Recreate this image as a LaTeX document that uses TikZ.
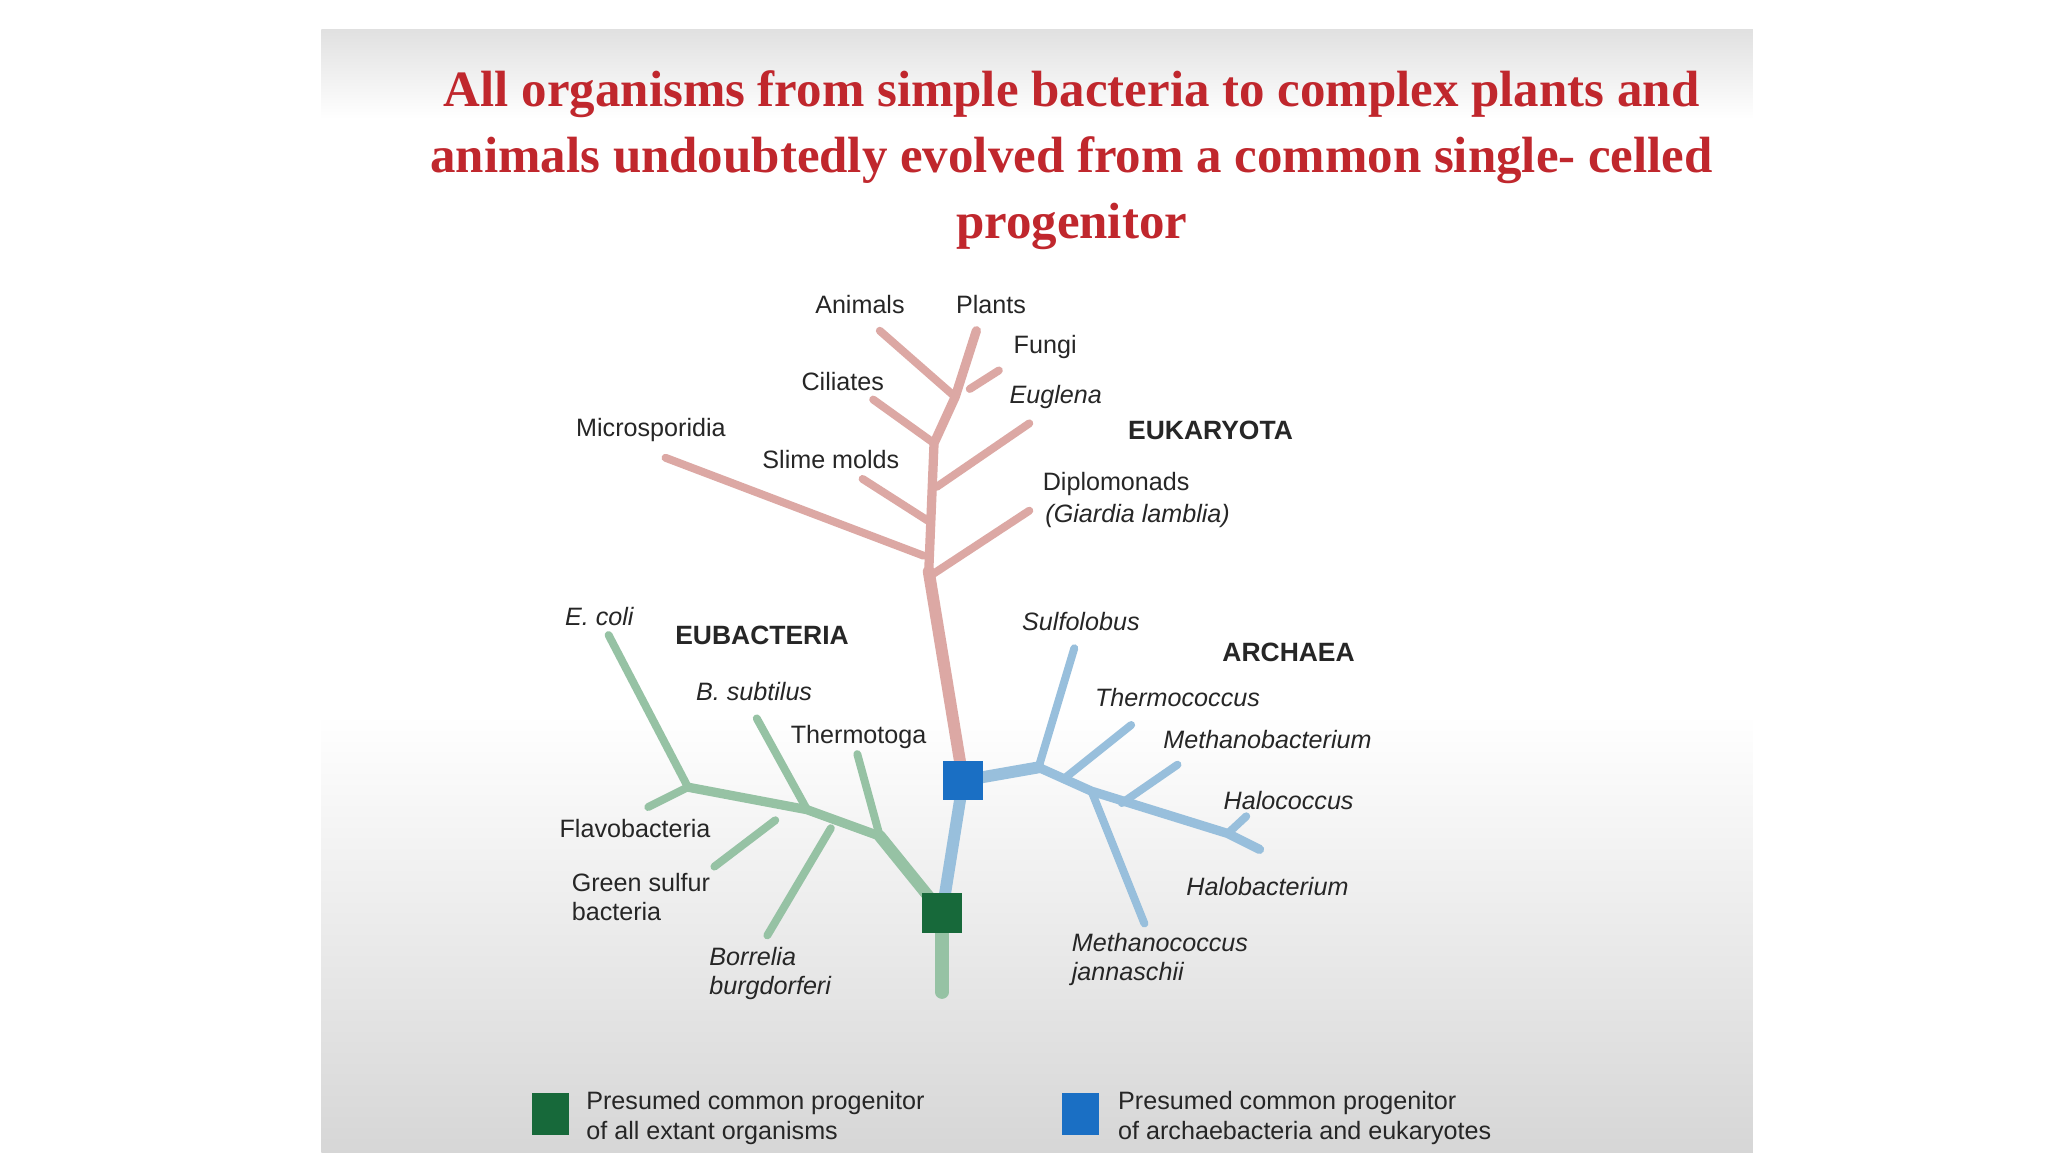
\documentclass[tikz,border=0pt]{standalone}
\usepackage{fontspec}
\setmainfont{Liberation Serif}
\setsansfont{Liberation Sans}
\definecolor{pk}{HTML}{DCA8A4}
\definecolor{bl}{HTML}{98BFDC}
\definecolor{gr}{HTML}{96C2A4}
\definecolor{bsqc}{HTML}{1A6FC4}
\definecolor{gsqc}{HTML}{17693A}
\definecolor{ttl}{HTML}{C0272D}
\begin{document}
\begin{tikzpicture}[x=1pt,y=-1pt,
 lab/.style={font=\sffamily\fontsize{19}{22}\selectfont,inner sep=0pt,text=black!85},
 itl/.style={lab,font=\sffamily\itshape\fontsize{19}{22}\selectfont},
 grp/.style={lab,font=\sffamily\bfseries\fontsize{20}{23}\selectfont},
 pink/.style={draw=pk,line width=6pt,line cap=round},
 blu/.style={draw=bl,line width=6pt,line cap=round},
 grn/.style={draw=gr,line width=6pt,line cap=round},
 sq/.style={minimum width=30pt,minimum height=30pt,inner sep=0pt}]
\useasboundingbox (0,0) rectangle (1548,871);
\fill[white] (0,0) rectangle (1548,871);
\shade[top color=black!12,bottom color=white] (243,22) rectangle (1325,90);
\fill[white] (243,90) rectangle (1325,540);
\shade[top color=white,bottom color=black!16] (243,540) rectangle (1325,871);
% title
\node[font=\bfseries\fontsize{38.5}{50}\selectfont,text=ttl,align=center] (title) at (810,121)
 {All organisms from simple bacteria to complex plants and\\animals undoubtedly evolved from a common single- celled\\progenitor};
% squares
\node[sq,fill=bsqc] (bsq) at (728,590) {};
\node[sq,fill=gsqc] (gsq) at (712,690) {};
% coordinates
\coordinate (e1) at (702,432); \coordinate (e2) at (706,335); \coordinate (e3) at (722,300); \coordinate (eP) at (738,250);
\coordinate (eA) at (665,250); \coordinate (eF) at (755,280); \coordinate (eF0) at (733,294);
\coordinate (eC) at (660,302); \coordinate (eE) at (778,320); \coordinate (eE0) at (708,368);
\coordinate (eS) at (652,362); \coordinate (eS0) at (702,394); \coordinate (eM) at (503,346); \coordinate (eM0) at (698,420);
\coordinate (eD) at (778,386); \coordinate (eD0) at (705,434);
% pink tree
\draw[pink,line width=9pt] (bsq.center) -- (e1);
\draw[pink,line width=7pt] (e1) -- (e2) -- (e3) -- (eP);
\draw[pink] (eA) -- (e3); \draw[pink] (eF) -- (eF0);
\draw[pink] (eC) -- (e2); \draw[pink] (eE) -- (eE0);
\draw[pink] (eS) -- (eS0); \draw[pink] (eM) -- (eM0); \draw[pink] (eD) -- (eD0);
% blue tree
\coordinate (a1) at (785,580); \coordinate (a2) at (825,598); \coordinate (a3) at (928,630); \coordinate (a4) at (952,642);
\draw[blu,line width=9pt] (bsq.center) -- (gsq.center);
\draw[blu,line width=9pt] (bsq.center) -- (a1);
\draw[blu,line width=7pt] (a1) -- (a2) -- (a3) -- (a4);
\draw[blu] (812,490) -- (a1);
\draw[blu] (855,548) -- (805,588);
\draw[blu] (890,578) -- (848,607);
\draw[blu] (a3) -- (942,617);
\draw[blu] (a2) -- (865,698);
% green tree
\coordinate (g1) at (665,632); \coordinate (g2) at (610,612); \coordinate (g3) at (520,595);
\draw[grn,line width=10pt] (gsq.center) -- (712,750);
\draw[grn,line width=9pt] (gsq.center) -- (g1);
\draw[grn,line width=7pt] (g1) -- (g2) -- (g3);
\draw[grn] (460,480) -- (g3); \draw[grn] (490,610) -- (g3);
\draw[grn] (572,543) -- (g2); \draw[grn] (648,570) -- (g1);
\draw[grn] (540,655) -- (586,620); \draw[grn] (580,707) -- (628,626);
\node[sq,fill=bsqc] at (bsq) {};
\node[sq,fill=gsqc] at (gsq) {};
% labels
\node[lab] (lA) at (650,230) {Animals};
\node[lab] (lP) at (749,230) {Plants};
\node[lab] (lF) at (790,262) {Fungi};
\node[lab] (lC) at (637,288) {Ciliates};
\node[itl] (lE) at (798,300) {Euglena};
\node[grp] (lEU) at (915,325) {EUKARYOTA};
\node[lab] (lM) at (492,325) {Microsporidia};
\node[lab] (lS) at (628,347) {Slime molds};
\node[lab,anchor=west] (lD) at (788,366) {Diplomonads};
\node[itl,anchor=west] (lG) at (790,390) {(Giardia lamblia)};
\node[itl] (lEc) at (453,466) {E. coli};
\node[grp] (lEB) at (576,480) {EUBACTERIA};
\node[itl] (lSu) at (817,470) {Sulfolobus};
\node[grp] (lAR) at (974,493) {ARCHAEA};
\node[itl] (lB) at (570,523) {B. subtilus};
\node[itl] (lT) at (890,527) {Thermococcus};
\node[lab] (lTh) at (649,557) {Thermotoga};
\node[itl] (lMb) at (958,559) {Methanobacterium};
\node[itl] (lH) at (974,605) {Halococcus};
\node[lab] (lFl) at (480,626) {Flavobacteria};
\node[lab,anchor=north west,align=left] (lGs) at (432,660) {Green sulfur\\bacteria};
\node[itl] (lHb) at (958,670) {Halobacterium};
\node[itl,anchor=north west,align=left] (lMc) at (810,705) {Methanococcus\\jannaschii};
\node[itl,anchor=north west,align=left] (lBo) at (536,716) {Borrelia\\burgdorferi};
% legend
\node[minimum width=28pt,minimum height=32pt,inner sep=0pt,fill=gsqc] (k1) at (416,842) {};
\node[lab,anchor=west,align=left] (k1t) at (443,845) {Presumed common progenitor\\of all extant organisms};
\node[minimum width=28pt,minimum height=32pt,inner sep=0pt,fill=bsqc] (k2) at (817,842) {};
\node[lab,anchor=west,align=left] (k2t) at (845,845) {Presumed common progenitor\\of archaebacteria and eukaryotes};
\end{tikzpicture}
\end{document}
